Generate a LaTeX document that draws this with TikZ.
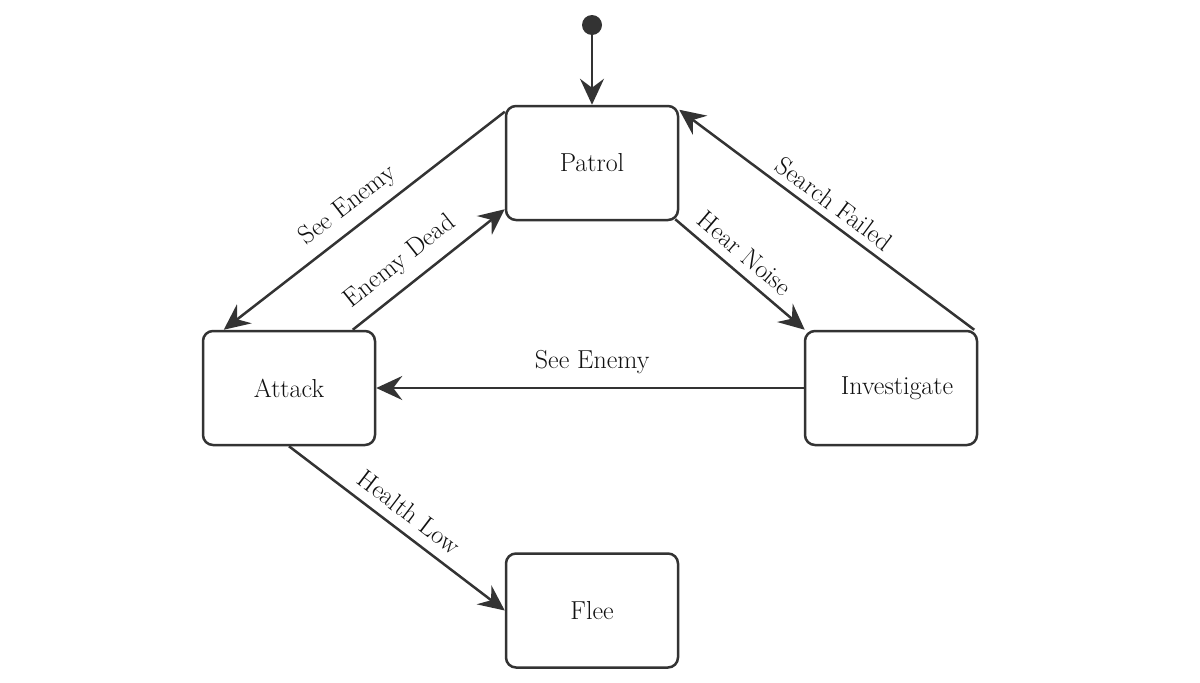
\documentclass[tikz,border=0pt]{standalone}
\usetikzlibrary{arrows.meta,calc}
\definecolor{ln}{HTML}{333333}
\definecolor{tx}{HTML}{111111}
\begin{document}
\begin{tikzpicture}[x=1pt,y=-1pt,
  txt/.style={font=\fontsize{26}{30}\selectfont, text=tx},
  statebox/.style={draw=ln, line width=2.5pt, rounded corners=10pt, fill=white,
    minimum width=172pt, minimum height=114pt, inner sep=0pt, txt},
  conn/.style={draw=ln, line width=2.5pt, -{Stealth[length=26pt,width=24pt,inset=9pt]}},
  lbl/.style={sloped, anchor=south, inner sep=9pt, txt}]
\useasboundingbox (0,0) rectangle (1200,683);
\node[circle, fill=ln, inner sep=0pt, minimum size=20pt] (start) at (592,25) {};
\node[statebox] (Patrol) at (592,163) {Patrol};
\node[statebox] (Attack) at (289,388) {Attack};
\node[statebox] (Investigate) at (891,388) {\hspace{12pt}Investigate};
\node[statebox] (Flee) at (592,610.5) {Flee};

\draw[conn] (start) -- (Patrol.north);
\draw[conn] ($(Patrol.north west)+(0,7)$) -- node[lbl, pos=0.51] {See Enemy} ($(Attack.north west)+(22,0)$);
\draw[conn] ($(Attack.north west)+(151,0)$) -- node[lbl, pos=0.41, inner sep=11pt] {Enemy Dead} ($(Patrol.south west)+(0,-12)$);
\draw[conn] ($(Patrol.south east)+(-4,-2)$) -- node[lbl, pos=0.44] {Hear Noise} ($(Investigate.north west)+(1,0)$);
\draw[conn] ($(Investigate.north east)+(-4,0)$) -- node[lbl, pos=0.51, inner sep=7pt] {Search Failed} ($(Patrol.north east)+(0,5)$);
\draw[conn] (Investigate.west) -- node[anchor=south, inner sep=13pt, pos=0.495, txt] {See Enemy} (Attack.east);
\draw[conn] (Attack.south) -- node[lbl, pos=0.5, inner sep=10pt] {Health Low} (Flee.west);
\end{tikzpicture}
\end{document}
